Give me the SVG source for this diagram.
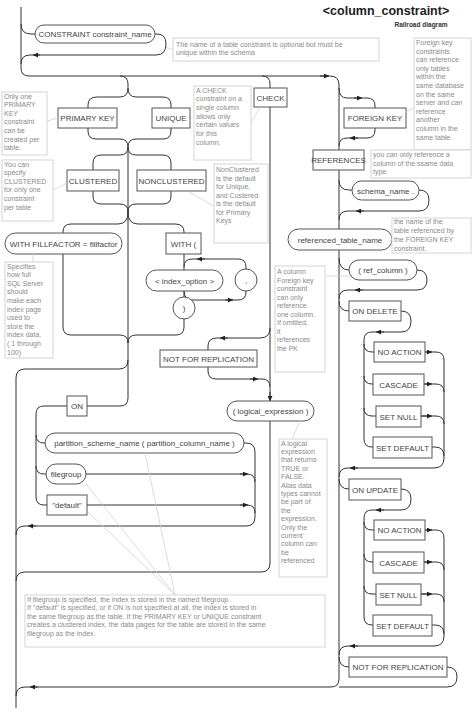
<svg xmlns="http://www.w3.org/2000/svg" width="474" height="712" viewBox="0 0 474 712">
<defs>
<marker id="a" viewBox="0 0 6 6" markerWidth="6" markerHeight="5" refX="6" refY="3" orient="auto" markerUnits="userSpaceOnUse"><path d="M0,0 L6,3 L0,6 z" fill="#222"/></marker>
<style>
.ln{fill:none;stroke:#333;stroke-width:1}
.ar{fill:none;stroke:#333;stroke-width:1;marker-end:url(#a)}
.nd{fill:#fff;stroke:#555;stroke-width:1}
.t{font-family:"Liberation Sans",Arial,sans-serif;font-size:8px;fill:#444;text-anchor:middle}
.nb{fill:#fff;stroke:#d4d4d4;stroke-width:1}
.nt{font-family:"Liberation Sans",Arial,sans-serif;font-size:7px;fill:#8a8a8a}
.ld{fill:none;stroke:#d0d0d0;stroke-width:0.8}
</style>
</defs>
<rect width="474" height="712" fill="#fff"/>
<text x="386" y="15" font-family="Liberation Sans,Arial,sans-serif" font-size="12.5" font-weight="bold" fill="#222" text-anchor="middle">&lt;column_constraint&gt;</text>
<text x="421" y="27" font-family="Liberation Sans,Arial,sans-serif" font-size="6.5" font-weight="bold" fill="#333" text-anchor="middle">Railroad diagram</text>

<g id="connectors">
<!-- top -->
<path class="ln" d="M21 7 L21 68 Q21 76 29 76 L330 76 Q339 76 339 85 L339 679 Q339 687 331 687 L25 687 Q16 687 16 696"/>
<path class="ln" d="M21 24 Q21 34 31 34 L35 34"/>
<path class="ln" d="M155 34 L157 34 Q166 34 166 44 Q166 55 156 55 L30 55 Q21 55 21 64"/>
<path class="ar" d="M40 55 L33 55"/>
<path class="ar" d="M320 76 L329 76"/>
<!-- PK / UNIQUE -->
<path class="ln" d="M120 76 Q128 76 128 84 L128 88 Q128 97 120 97 L97 97 Q88 97 88 105 L88 108"/>
<path class="ln" d="M128 88 Q128 97 136 97 L163 97 Q171 97 171 105 L171 108"/>
<path class="ln" d="M88 128 L88 131 Q88 139 96 139 L120 139 Q128 139 128 147"/>
<path class="ln" d="M171 128 L171 131 Q171 139 163 139 L136 139 Q128 139 128 147"/>
<path class="ln" d="M128 147 L128 360 Q128 369 119 369 L25 369 Q16 369 16 378 L16 708"/>
<path class="ln" d="M128 147 Q128 155 120 155 L101 155 Q93 155 93 163 L93 170"/>
<path class="ln" d="M128 147 Q128 155 136 155 L163 155 Q171 155 171 163 L171 170"/>
<path class="ln" d="M93 191 L93 196 Q93 204 101 204 L120 204 Q128 204 128 212"/>
<path class="ln" d="M171 191 L171 196 Q171 204 163 204 L136 204 Q128 204 128 212"/>
<path class="ln" d="M128 212 Q128 224 118 224 L71 224 Q63 224 63 232 L63 233"/>
<path class="ln" d="M128 212 Q128 224 138 224 L175 224 Q184 224 184 232 L184 233"/>
<path class="ln" d="M63 254 L63 327 Q63 335 71 335 L120 335 Q128 335 128 343"/>
<path class="ln" d="M184 254 L184 270"/>
<path class="ln" d="M246 269 L246 267 Q246 259 238 259 L192 259 Q184 259 184 267"/>
<path class="ar" d="M205 259 L197 259"/>
<path class="ln" d="M184 291 L184 297"/>
<path class="ln" d="M184 291 Q184 300 193 300 L238 300 Q246 300 246 292 L246 291"/>
<path class="ar" d="M225 300 L233 300"/>
<path class="ln" d="M184 319 L184 327 Q184 335 176 335 L136 335 Q128 335 128 343"/>
<!-- ON -->
<path class="ln" d="M128 360 L128 398 Q128 406 120 406 L87 406"/>
<path class="ln" d="M67 406 L44 406 Q36 406 36 414 L36 497 Q36 505 44 505 L47 505"/>
<path class="ln" d="M36 435 Q36 443 44 443 L45 443"/>
<path class="ln" d="M36 466 Q36 474 44 474 L46 474"/>
<path class="ln" d="M244 443 L246 443 Q255 443 255 452 L255 517 Q255 526 246 526 L25 526 Q16 526 16 535"/>
<path class="ln" d="M86 474 L247 474 Q255 474 255 482"/>
<path class="ln" d="M87 505 L247 505 Q255 505 255 513"/>
<path class="ar" d="M240 474 L248 474"/>
<path class="ar" d="M240 505 L248 505"/>
<path class="ar" d="M36 526 L28 526"/>
<!-- CHECK -->
<path class="ln" d="M262 76 Q270 76 270 84 L270 88"/>
<path class="ln" d="M270 107 L270 401"/>
<path class="ar" d="M270 392 L270 401"/>
<path class="ln" d="M270 328 Q270 338 260 338 L217 338 Q208 338 208 346 L208 350"/>
<path class="ar" d="M228 338 L220 338"/>
<path class="ln" d="M208 367 L208 371 Q208 379 216 379 L262 379 Q270 379 270 387"/>
<path class="ar" d="M250 379 L258 379"/>
<path class="ln" d="M270 421 L270 563 Q270 572 261 572 L25 572 Q16 572 16 581"/>
<!-- FK -->
<path class="ln" d="M339 88 Q339 98 347 98 L367 98 Q375 98 375 106 L375 108"/>
<path class="ar" d="M354 98 L362 98"/>
<path class="ln" d="M375 128 L375 130 Q375 138 367 138 L347 138 Q339 138 339 146"/>
<path class="ar" d="M358 138 L350 138"/>
<path class="ln" d="M339 180 Q339 190 349 190 L352 190"/>
<path class="ln" d="M419 190 Q429 190 429 200 Q429 211 419 211 L348 211 Q339 211 339 220"/>
<path class="ar" d="M364 211 L356 211"/>
<path class="ln" d="M339 258 Q339 270 349 270"/>
<path class="ln" d="M417 270 Q427 270 427 280 Q427 290 417 290 L348 290 Q339 290 339 299"/>
<path class="ar" d="M363 290 L355 290"/>
<!-- ON DELETE -->
<path class="ln" d="M339 301 Q339 311 349 311"/>
<path class="ln" d="M401 311 Q411 311 411 321 Q411 332 401 332 L372 332 Q364 332 364 340 L364 439 Q364 447 372 447 L373 447"/>
<path class="ar" d="M384 332 L376 332"/>
<path class="ln" d="M364 344 Q364 352 372 352 L374 352"/>
<path class="ln" d="M364 376 Q364 384 372 384 L373 384"/>
<path class="ln" d="M364 408 Q364 416 372 416 L376 416"/>
<path class="ln" d="M425 352 L436 352 Q444 352 444 360 L444 458 Q444 468 434 468 L348 468 Q339 468 339 477"/>
<path class="ln" d="M424 384 L436 384 Q444 384 444 392"/>
<path class="ln" d="M421 416 L436 416 Q444 416 444 424"/>
<path class="ln" d="M432 447 L435 447 Q444 447 444 456"/>
<path class="ar" d="M425 352 L432 352"/>
<path class="ar" d="M424 384 L432 384"/>
<path class="ar" d="M421 416 L432 416"/>
<path class="ar" d="M358 468 L350 468"/>
<!-- ON UPDATE -->
<path class="ln" d="M339 479 Q339 489 349 489"/>
<path class="ln" d="M401 489 Q411 489 411 499 Q411 510 401 510 L372 510 Q364 510 364 518 L364 617 Q364 625 372 625 L373 625"/>
<path class="ar" d="M384 510 L376 510"/>
<path class="ln" d="M364 522 Q364 530 372 530 L374 530"/>
<path class="ln" d="M364 554 Q364 562 372 562 L373 562"/>
<path class="ln" d="M364 586 Q364 594 372 594 L376 594"/>
<path class="ln" d="M425 530 L436 530 Q444 530 444 538 L444 636 Q444 646 434 646 L348 646 Q339 646 339 655"/>
<path class="ln" d="M424 562 L436 562 Q444 562 444 570"/>
<path class="ln" d="M421 594 L436 594 Q444 594 444 602"/>
<path class="ln" d="M432 625 L435 625 Q444 625 444 634"/>
<path class="ar" d="M425 530 L432 530"/>
<path class="ar" d="M424 562 L432 562"/>
<path class="ar" d="M421 594 L432 594"/>
<path class="ar" d="M358 646 L350 646"/>
<!-- NOT FOR REPLICATION FK -->
<path class="ln" d="M339 657 Q339 667 349 667"/>
<path class="ln" d="M447 667 Q457 667 457 677 Q457 687 447 687 L339 687"/>
<path class="ar" d="M38 687 L30 687"/>
</g>

<g id="n-constraint"><rect class="nd" x="35" y="25" width="120" height="18" rx="9"/><text class="t" x="95" y="37">CONSTRAINT constraint_name</text></g>
<g id="n-pk"><rect class="nd" x="58" y="108" width="59" height="20"/><text class="t" x="87.5" y="121">PRIMARY KEY</text></g>
<g id="n-unique"><rect class="nd" x="152" y="108" width="38" height="20"/><text class="t" x="171" y="121">UNIQUE</text></g>
<g id="n-clustered"><rect class="nd" x="67" y="170" width="52" height="21"/><text class="t" x="93" y="183.5">CLUSTERED</text></g>
<g id="n-nonclustered"><rect class="nd" x="137" y="170" width="69" height="21"/><text class="t" x="171.5" y="183.5">NONCLUSTERED</text></g>
<g id="n-fillfactor"><rect class="nd" x="5" y="233" width="117" height="21" rx="10.5"/><text class="t" x="63.5" y="246.5">WITH FILLFACTOR = fillfactor</text></g>
<g id="n-with"><rect class="nd" x="166" y="233" width="35" height="21"/><text class="t" x="183.5" y="246.5">WITH (</text></g>
<g id="n-index"><rect class="nd" x="146" y="270" width="77" height="21" rx="10.5"/><text class="t" x="184.5" y="283.5">&lt; index_option &gt;</text></g>
<g id="n-comma"><circle class="nd" cx="246" cy="280" r="11"/><text class="t" x="246" y="283">,</text></g>
<g id="n-close"><circle class="nd" cx="184" cy="308" r="11"/><text class="t" x="184" y="311">)</text></g>
<g id="n-on"><rect class="nd" x="67" y="396" width="20" height="20"/><text class="t" x="77" y="409">ON</text></g>
<g id="n-partition"><rect class="nd" x="45" y="433" width="199" height="20" rx="10"/><text class="t" x="144.5" y="446">partition_scheme_name ( partition_column_name )</text></g>
<g id="n-filegroup"><rect class="nd" x="46" y="464" width="40" height="20" rx="10"/><text class="t" x="66" y="477">filegroup</text></g>
<g id="n-default"><rect class="nd" x="47" y="495" width="40" height="20"/><text class="t" x="67" y="508">"default"</text></g>
<g id="n-check"><rect class="nd" x="254" y="88" width="33" height="19"/><text class="t" x="270.5" y="100.5">CHECK</text></g>
<g id="n-nfr1"><rect class="nd" x="160" y="350" width="97" height="17"/><text class="t" x="208.5" y="361.5">NOT FOR REPLICATION</text></g>
<g id="n-logical"><rect class="nd" x="227" y="401" width="87" height="20" rx="10"/><text class="t" x="270.5" y="414">( logical_expression )</text></g>
<g id="n-fk"><rect class="nd" x="344" y="108" width="62" height="20"/><text class="t" x="375" y="121">FOREIGN KEY</text></g>
<g id="n-references"><rect class="nd" x="313" y="150" width="51" height="20"/><text class="t" x="338.5" y="163">REFERENCES</text></g>
<g id="n-schema"><rect class="nd" x="352" y="181" width="67" height="19" rx="9.5"/><text class="t" x="385.5" y="193.5">schema_name .</text></g>
<g id="n-reftable"><rect class="nd" x="288" y="229" width="104" height="21" rx="10.5"/><text class="t" x="340" y="242.5">referenced_table_name</text></g>
<g id="n-refcol"><rect class="nd" x="349" y="260" width="68" height="20" rx="10"/><text class="t" x="383" y="273">( ref_column )</text></g>
<g id="n-ondelete"><rect class="nd" x="349" y="301" width="52" height="20"/><text class="t" x="375" y="314">ON DELETE</text></g>
<g id="n-noaction1"><rect class="nd" x="374" y="342" width="51" height="20"/><text class="t" x="399.5" y="355">NO ACTION</text></g>
<g id="n-cascade1"><rect class="nd" x="373" y="374" width="51" height="21"/><text class="t" x="398.5" y="387.5">CASCADE</text></g>
<g id="n-setnull1"><rect class="nd" x="376" y="406" width="45" height="21"/><text class="t" x="398.5" y="419.5">SET NULL</text></g>
<g id="n-setdefault1"><rect class="nd" x="373" y="437" width="59" height="21"/><text class="t" x="402.5" y="450.5">SET DEFAULT</text></g>
<g id="n-onupdate"><rect class="nd" x="349" y="479" width="52" height="21"/><text class="t" x="375" y="492.5">ON UPDATE</text></g>
<g id="n-noaction2"><rect class="nd" x="374" y="520" width="51" height="20"/><text class="t" x="399.5" y="533">NO ACTION</text></g>
<g id="n-cascade2"><rect class="nd" x="373" y="552" width="51" height="21"/><text class="t" x="398.5" y="565.5">CASCADE</text></g>
<g id="n-setnull2"><rect class="nd" x="376" y="584" width="45" height="21"/><text class="t" x="398.5" y="597.5">SET NULL</text></g>
<g id="n-setdefault2"><rect class="nd" x="373" y="615" width="59" height="21"/><text class="t" x="402.5" y="628.5">SET DEFAULT</text></g>
<g id="n-nfr2"><rect class="nd" x="349" y="657" width="98" height="20"/><text class="t" x="398" y="670">NOT FOR REPLICATION</text></g>

<g id="notes">
<path class="ld" d="M166 47 L173 50"/>
<rect class="nb" x="173" y="38" width="206" height="23"/>
<text class="nt" x="176" y="46.5"><tspan>The name of a table constraint is optional but must be</tspan><tspan x="176" dy="8.5">unique within the schema</tspan></text>

<path class="ld" d="M47 121 L58 118"/>
<rect class="nb" x="2" y="92" width="45" height="63"/>
<text class="nt" x="4" y="98.5"><tspan>Only one</tspan><tspan x="4" dy="8.6">PRIMARY</tspan><tspan x="4" dy="8.6">KEY</tspan><tspan x="4" dy="8.6">constraint</tspan><tspan x="4" dy="8.6">can be</tspan><tspan x="4" dy="8.6">created per</tspan><tspan x="4" dy="8.6">table.</tspan></text>

<path class="ld" d="M53 190 L67 183"/>
<rect class="nb" x="2" y="160" width="51" height="61"/>
<text class="nt" x="4" y="166.5"><tspan>You can</tspan><tspan x="4" dy="8.6">specify</tspan><tspan x="4" dy="8.6">CLUSTERED</tspan><tspan x="4" dy="8.6">for only one</tspan><tspan x="4" dy="8.6">constraint</tspan><tspan x="4" dy="8.6">per table</tspan></text>

<path class="ld" d="M251 123 L260 107"/>
<rect class="nb" x="194" y="86" width="57" height="74"/>
<text class="nt" x="196" y="92.5"><tspan>A CHECK</tspan><tspan x="196" dy="8.7">constraint on a</tspan><tspan x="196" dy="8.7">single column</tspan><tspan x="196" dy="8.7">allows only</tspan><tspan x="196" dy="8.7">certain values</tspan><tspan x="196" dy="8.7">for this</tspan><tspan x="196" dy="8.7">column.</tspan></text>

<path class="ld" d="M189 192 L214 206"/>
<rect class="nb" x="214" y="164" width="54" height="79"/>
<text class="nt" x="216" y="172"><tspan>NonClustered</tspan><tspan x="216" dy="8.5">is the default</tspan><tspan x="216" dy="8.5">for Unique,</tspan><tspan x="216" dy="8.5">and Custered</tspan><tspan x="216" dy="8.5">is the default</tspan><tspan x="216" dy="8.5">for Primary</tspan><tspan x="216" dy="8.5">Keys</tspan></text>

<path class="ld" d="M33 262 L33 254"/>
<rect class="nb" x="5" y="262" width="48" height="96"/>
<text class="nt" x="7" y="268.5"><tspan>Specifies</tspan><tspan x="7" dy="8.6">how full</tspan><tspan x="7" dy="8.6">SQL Server</tspan><tspan x="7" dy="8.6">should</tspan><tspan x="7" dy="8.6">make each</tspan><tspan x="7" dy="8.6">index page</tspan><tspan x="7" dy="8.6">used to</tspan><tspan x="7" dy="8.6">store the</tspan><tspan x="7" dy="8.6">index data.</tspan><tspan x="7" dy="8.6">( 1 through</tspan><tspan x="7" dy="8.6">100)</tspan></text>

<path class="ld" d="M406 112 L414 108"/>
<rect class="nb" x="414" y="38" width="57" height="112"/>
<text class="nt" x="416" y="45"><tspan>Foreign key</tspan><tspan x="416" dy="8.6">constraints</tspan><tspan x="416" dy="8.6">can reference</tspan><tspan x="416" dy="8.6">only tables</tspan><tspan x="416" dy="8.6">within the</tspan><tspan x="416" dy="8.6">same database</tspan><tspan x="416" dy="8.6">on the same</tspan><tspan x="416" dy="8.6">server and can</tspan><tspan x="416" dy="8.6">reference</tspan><tspan x="416" dy="8.6">another</tspan><tspan x="416" dy="8.6">column in the</tspan><tspan x="416" dy="8.6">same table</tspan></text>

<rect class="nb" x="371" y="150" width="100" height="28"/>
<text class="nt" x="373" y="157"><tspan>you can only reference a</tspan><tspan x="373" dy="8.7">column of the ssame data</tspan><tspan x="373" dy="8.7">type</tspan></text>

<rect class="nb" x="392" y="218" width="79" height="35"/>
<text class="nt" x="394" y="224"><tspan>the name of the</tspan><tspan x="394" dy="9">table referenced by</tspan><tspan x="394" dy="9">the FOREIGN KEY</tspan><tspan x="394" dy="9">constraint.</tspan></text>

<path class="ld" d="M326 276 L349 276"/>
<rect class="nb" x="275" y="266" width="50" height="106"/>
<text class="nt" x="277" y="274"><tspan>A column</tspan><tspan x="277" dy="8.5">Foreign key</tspan><tspan x="277" dy="8.5">constraint</tspan><tspan x="277" dy="8.5">can only</tspan><tspan x="277" dy="8.5">reference</tspan><tspan x="277" dy="8.5">one column.</tspan><tspan x="277" dy="8.5">If omitted,</tspan><tspan x="277" dy="8.5">it</tspan><tspan x="277" dy="8.5">references</tspan><tspan x="277" dy="8.5">the PK</tspan></text>

<path class="ld" d="M292 439 L300 421"/>
<rect class="nb" x="279" y="439" width="48" height="138"/>
<text class="nt" x="281" y="445.5"><tspan>A logical</tspan><tspan x="281" dy="8.4">expression</tspan><tspan x="281" dy="8.4">that returns</tspan><tspan x="281" dy="8.4">TRUE or</tspan><tspan x="281" dy="8.4">FALSE.</tspan><tspan x="281" dy="8.4">Alias data</tspan><tspan x="281" dy="8.4">types cannot</tspan><tspan x="281" dy="8.4">be part of</tspan><tspan x="281" dy="8.4">the</tspan><tspan x="281" dy="8.4">expression.</tspan><tspan x="281" dy="8.4">Only the</tspan><tspan x="281" dy="8.4">current</tspan><tspan x="281" dy="8.4">column can</tspan><tspan x="281" dy="8.4">be</tspan><tspan x="281" dy="8.4">referenced</tspan></text>

<path class="ld" d="M145 453 L175 595 M86 484 L175 595 M88 512 L175 595"/>
<rect class="nb" x="25" y="595" width="300" height="52"/>
<text class="nt" x="27" y="601.5"><tspan>If filegroup is specified, the index is stored in the named filegroup.</tspan><tspan x="27" dy="8.6">If "default" is specified, or if ON is not specified at all, the index is stored in</tspan><tspan x="27" dy="8.6">the same filegroup as the table. If the PRIMARY KEY or UNIQUE constraint</tspan><tspan x="27" dy="8.6">creates a clustered index, the data pages for the table are stored in the same</tspan><tspan x="27" dy="8.6">filegroup as the index.</tspan></text>
</g>
</svg>
